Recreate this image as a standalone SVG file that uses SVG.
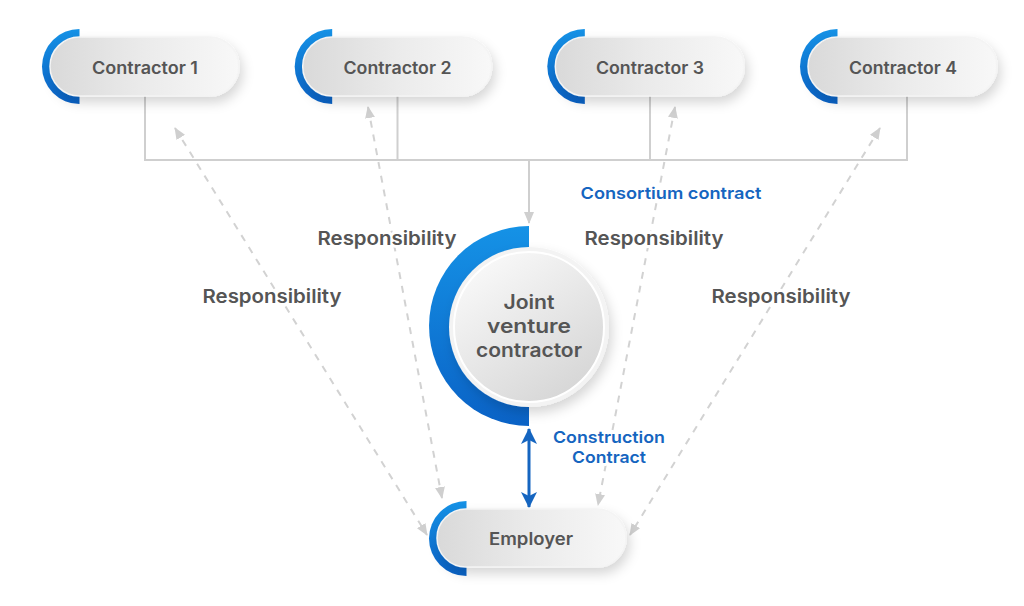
<svg xmlns="http://www.w3.org/2000/svg" width="1024" height="606" viewBox="0 0 1024 606">
<defs>
  <linearGradient id="pillG" x1="0" y1="0" x2="1" y2="0">
    <stop offset="0" stop-color="#d9d9d9"/>
    <stop offset="0.5" stop-color="#ebebeb"/>
    <stop offset="1" stop-color="#f8f8f8"/>
  </linearGradient>
  <linearGradient id="blueG" x1="0" y1="0" x2="0" y2="1">
    <stop offset="0" stop-color="#1592e6"/>
    <stop offset="1" stop-color="#0a62c6"/>
  </linearGradient>
  <linearGradient id="circG" x1="0.2" y1="0.1" x2="0.8" y2="0.95">
    <stop offset="0" stop-color="#f7f7f7"/>
    <stop offset="1" stop-color="#d6d6d6"/>
  </linearGradient>
  <filter id="sh" x="-30%" y="-40%" width="160%" height="190%">
    <feDropShadow dx="3" dy="6" stdDeviation="6" flood-color="#000" flood-opacity="0.16"/>
  </filter>
  <marker id="ga" viewBox="0 0 12 10" refX="11" refY="5" markerWidth="12" markerHeight="10" markerUnits="userSpaceOnUse" orient="auto">
    <path d="M0,0 L12,5 L0,10 Z" fill="#cfcfcf"/>
  </marker>
  <marker id="gs" viewBox="0 0 12 10" refX="1" refY="5" markerWidth="12" markerHeight="10" markerUnits="userSpaceOnUse" orient="auto">
    <path d="M12,0 L0,5 L12,10 Z" fill="#cfcfcf"/>
  </marker>
  <marker id="ba" viewBox="0 0 16 16" refX="15" refY="8" markerWidth="16" markerHeight="16" markerUnits="userSpaceOnUse" orient="auto">
    <path d="M0,0 L16,8 L0,16 L4,8 Z" fill="#1565c0"/>
  </marker>
  <marker id="bs" viewBox="0 0 16 16" refX="1" refY="8" markerWidth="16" markerHeight="16" markerUnits="userSpaceOnUse" orient="auto">
    <path d="M16,0 L0,8 L16,16 L12,8 Z" fill="#1565c0"/>
  </marker>
</defs>
<style>
  .pill { fill: url(#pillG); stroke: #f4f4f4; stroke-width: 1.5; filter: url(#sh); }
  .arc { fill: url(#blueG); }
  .lbl { font-family: Inter, "Noto Sans", "Liberation Sans", sans-serif; font-weight: 600; fill: #555; text-anchor: middle; }
  .blue { font-family: Inter, "Noto Sans", "Liberation Sans", sans-serif; font-weight: 600; fill: #1565c0; text-anchor: middle; font-size: 16.5px; }
  .resp { font-size: 19px; paint-order: stroke; stroke: #fff; stroke-width: 6px; stroke-linejoin: round; }
  .tree { fill: none; stroke: #cfcfcf; stroke-width: 2; }
  .dash { fill: none; stroke: #d2d2d2; stroke-width: 2; stroke-dasharray: 7 7; }
</style>
<rect width="1024" height="606" fill="#ffffff"/>

<g id="connectors">
  <path class="tree" d="M145,96 V160 H907 V96 M397.5,96 V160 M650,96 V160"/>
  <line class="tree" x1="529" y1="160" x2="529" y2="223" marker-end="url(#ga)"/>
  <line class="dash" x1="175" y1="128" x2="427" y2="535" marker-start="url(#gs)" marker-end="url(#ga)"/>
  <line class="dash" x1="368" y1="107" x2="442" y2="498" marker-start="url(#gs)" marker-end="url(#ga)"/>
  <line class="dash" x1="675" y1="107" x2="598" y2="505" marker-start="url(#gs)" marker-end="url(#ga)"/>
  <line class="dash" x1="880" y1="128" x2="630" y2="535" marker-start="url(#gs)" marker-end="url(#ga)"/>
  <line x1="529" y1="429" x2="529" y2="507" stroke="#1565c0" stroke-width="3" marker-start="url(#bs)" marker-end="url(#ba)"/>
</g>

<g id="labels">
  <text class="lbl resp" x="272" y="303" textLength="139" lengthAdjust="spacingAndGlyphs">Responsibility</text>
  <text class="lbl resp" x="387" y="245" textLength="139" lengthAdjust="spacingAndGlyphs">Responsibility</text>
  <text class="lbl resp" x="654" y="245" textLength="139" lengthAdjust="spacingAndGlyphs">Responsibility</text>
  <text class="lbl resp" x="781" y="303" textLength="139" lengthAdjust="spacingAndGlyphs">Responsibility</text>
  <text class="blue resp" style="font-size:16.5px" x="671" y="199" textLength="181" lengthAdjust="spacingAndGlyphs">Consortium contract</text>
  <text class="blue resp" style="font-size:16.5px" x="609" y="443" textLength="112" lengthAdjust="spacingAndGlyphs">Construction</text>
  <text class="blue resp" style="font-size:16.5px" x="609" y="463" textLength="74" lengthAdjust="spacingAndGlyphs">Contract</text>
</g>

<g id="contractor1">
  <path class="arc" d="M79.5,29 A37.5,37.5 0 0 0 79.5,104 Z"/>
  <rect class="pill" x="50" y="37" width="189" height="59" rx="29.5"/>
  <text class="lbl" x="145" y="74" font-size="17" textLength="106" lengthAdjust="spacingAndGlyphs">Contractor 1</text>
</g>
<g id="contractor2">
  <path class="arc" d="M332.2,29 A37.5,37.5 0 0 0 332.2,104 Z"/>
  <rect class="pill" x="302.7" y="37" width="189" height="59" rx="29.5"/>
  <text class="lbl" x="397.5" y="74" font-size="17" textLength="108" lengthAdjust="spacingAndGlyphs">Contractor 2</text>
</g>
<g id="contractor3">
  <path class="arc" d="M584.8,29 A37.5,37.5 0 0 0 584.8,104 Z"/>
  <rect class="pill" x="555.3" y="37" width="189" height="59" rx="29.5"/>
  <text class="lbl" x="650" y="74" font-size="17" textLength="108" lengthAdjust="spacingAndGlyphs">Contractor 3</text>
</g>
<g id="contractor4">
  <path class="arc" d="M837.5,29 A37.5,37.5 0 0 0 837.5,104 Z"/>
  <rect class="pill" x="808" y="37" width="189" height="59" rx="29.5"/>
  <text class="lbl" x="903" y="74" font-size="17" textLength="108" lengthAdjust="spacingAndGlyphs">Contractor 4</text>
</g>

<g id="joint-venture">
  <path class="arc" d="M529,226 A100,100 0 0 0 529,426 Z"/>
  <circle cx="529" cy="327" r="80" fill="#f3f3f3" filter="url(#sh)"/>
  <circle cx="529" cy="327" r="75" fill="url(#circG)" stroke="#ffffff" stroke-width="2"/>
  <text class="lbl" x="529" y="309" font-size="19.5" textLength="51" lengthAdjust="spacingAndGlyphs">Joint</text>
  <text class="lbl" x="529" y="333" font-size="19.5" textLength="84" lengthAdjust="spacingAndGlyphs">venture</text>
  <text class="lbl" x="529" y="357" font-size="19.5" textLength="106" lengthAdjust="spacingAndGlyphs">contractor</text>
</g>

<g id="employer">
  <path class="arc" d="M466.5,501 A37.5,37.5 0 0 0 466.5,576 Z"/>
  <rect class="pill" x="437" y="509" width="189" height="58" rx="29"/>
  <text class="lbl" x="531" y="545" font-size="17" textLength="84" lengthAdjust="spacingAndGlyphs">Employer</text>
</g>
</svg>
